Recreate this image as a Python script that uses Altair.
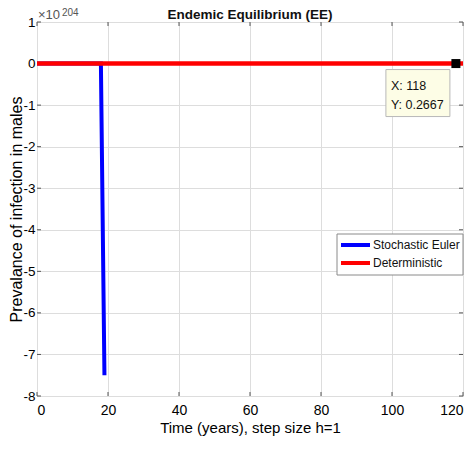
import altair as alt
import pandas as pd

# ---- data (y values in units of 1e204) ----
stoch_t = [0, 18, 19]
stoch_y = [0.0, 0.0, -7.5]
det_t = [0, 120]
det_y = [0.2667e-204, 0.2667e-204]
series_names = ["Stochastic Euler", "Deterministic"]
series_colors = ["#0000ff", "#ff0000"]
x_ticks = [0, 20, 40, 60, 80, 100, 120]
y_ticks = [1, 0, -1, -2, -3, -4, -5, -6, -7, -8]
tip_x = 118
tip_y = 0.2667e-204
tip_lines = ["X: 118", "Y: 0.2667"]
title_text = "Endemic Equilibrium (EE)"

FONT = "Liberation Sans"
TXT = "#262626"
W, H = 426, 374

stoch_df = pd.DataFrame({"t": stoch_t, "y": stoch_y, "s": series_names[0]})
det_df = pd.DataFrame({"t": det_t, "y": det_y, "s": series_names[1]})
xt_df = pd.DataFrame({"v": x_ticks})
yt_df = pd.DataFrame({"v": y_ticks})
leg_df = pd.DataFrame({"name": series_names, "color": series_colors, "row": [0, 1]})

xscale = alt.Scale(domain=[0, 120], nice=False, zero=False)
yscale = alt.Scale(domain=[-8, 1], nice=False, zero=False)

xenc = alt.X("t:Q", scale=xscale, axis=alt.Axis(
    values=x_ticks, title="Time (years), step size h=1", labelExpr="'' + datum.value",
    labelFontSize=14, titleFontSize=15, titleFontWeight="normal",
    labelPadding=7, titlePadding=3, tickSize=0, grid=True, domain=False))
yenc = alt.Y("y:Q", scale=yscale, axis=alt.Axis(
    values=y_ticks, title="Prevalance of infection in males", labelExpr="'' + datum.value",
    labelFontSize=13.5, titleFontSize=16, titleFontWeight="normal",
    labelPadding=2, tickSize=0, grid=True, domain=False, titleX=-29, titleBaseline="top"))

color = alt.Color("s:N", scale=alt.Scale(domain=series_names, range=series_colors), legend=None)

stoch = alt.Chart(stoch_df).mark_line(strokeWidth=4, strokeCap="butt").encode(
    x=xenc, y=yenc, color=color)
det = alt.Chart(det_df).mark_line(strokeWidth=4.5, strokeCap="butt").encode(
    x="t:Q", y="y:Q", color=color)

tick_col = "#555555"
xt_bot = alt.Chart(xt_df).mark_rule(color=tick_col).encode(
    x=alt.X("v:Q", scale=xscale), y=alt.value(H), y2=alt.value(H - 4))
xt_top = alt.Chart(xt_df).mark_rule(color=tick_col).encode(
    x=alt.X("v:Q", scale=xscale), y=alt.value(0), y2=alt.value(4))
yt_l = alt.Chart(yt_df).mark_rule(color=tick_col).encode(
    y=alt.Y("v:Q", scale=yscale), x=alt.value(0), x2=alt.value(4))
yt_r = alt.Chart(yt_df).mark_rule(color=tick_col).encode(
    y=alt.Y("v:Q", scale=yscale), x=alt.value(W), x2=alt.value(W - 4))

# data tip
one = det_df.head(1)
tip_box = alt.Chart(one).mark_rect(
    fill="#fdfde6", stroke="#b8b8b8", strokeWidth=1,
    xOffset=-70, x2Offset=-6, yOffset=6, y2Offset=53).encode(
    x=alt.datum(tip_x), x2=alt.datum(tip_x), y=alt.datum(tip_y), y2=alt.datum(tip_y))
tip_t1 = alt.Chart(one).mark_text(
    text=tip_lines[0], align="left", baseline="middle", dx=-65, dy=22,
    fontSize=12.5, font=FONT, color="#111").encode(x=alt.datum(tip_x), y=alt.datum(tip_y))
tip_t2 = alt.Chart(one).mark_text(
    text=tip_lines[1], align="left", baseline="middle", dx=-65, dy=41,
    fontSize=12.5, font=FONT, color="#111").encode(x=alt.datum(tip_x), y=alt.datum(tip_y))
tip_sq = alt.Chart(one).mark_square(size=81, color="black", opacity=1, filled=True).encode(
    x=alt.datum(tip_x), y=alt.datum(tip_y))

# exponent label and title (text marks anchored to the top of the axes)
exp1 = alt.Chart(one).mark_text(
    text="×10", align="left", baseline="middle", dx=1, dy=-7, fontSize=13,
    font=FONT, color="#555").encode(x=alt.datum(0), y=alt.datum(1))
exp2 = alt.Chart(one).mark_text(
    text="204", align="left", baseline="middle", dx=25, dy=-9, fontSize=10,
    font=FONT, color="#555").encode(x=alt.datum(0), y=alt.datum(1))
title = alt.Chart(one).mark_text(
    text=title_text, align="center", baseline="middle", dy=-7, fontSize=13.5,
    fontWeight="bold", font=FONT, color="#111").encode(x=alt.datum(60), y=alt.datum(1))

# legend (manual, MATLAB style)
leg_box = alt.Chart(one).mark_rect(fill="white", stroke="#8a8a8a", strokeWidth=1).encode(
    x=alt.value(300), x2=alt.value(426), y=alt.value(212), y2=alt.value(253))
leg_y = alt.Scale(domain=[0, 1], range=[223, 241])
leg_line = alt.Chart(leg_df).mark_rule(strokeWidth=4).encode(
    x=alt.value(304), x2=alt.value(333),
    y=alt.Y("row:Q", scale=leg_y, axis=None),
    color=alt.Color("color:N", scale=None))
leg_text = alt.Chart(leg_df).mark_text(align="left", baseline="middle", fontSize=12,
                                       font=FONT, color="#111").encode(
    x=alt.value(336), y=alt.Y("row:Q", scale=leg_y, axis=None), text="name:N")

main = alt.layer(xt_bot, xt_top, yt_l, yt_r, stoch, det, tip_box, tip_t1, tip_t2, tip_sq,
                 exp1, exp2, title)

chart = alt.layer(main, leg_box, leg_line, leg_text).resolve_scale(
    y="independent", color="independent").properties(
    width=W, height=H,
    autosize=alt.AutoSizeParams(type="none"),
    padding={"left": 29, "top": 14, "right": 3, "bottom": 42},
).configure_view(stroke="#666666", strokeWidth=1).configure_axis(
    labelFont=FONT, titleFont=FONT, labelColor=TXT, titleColor=TXT,
    gridColor="#e3e3e3", gridWidth=1
).configure(background="white")

chart.save("out.html", embed_options={"renderer": "svg", "actions": False})
